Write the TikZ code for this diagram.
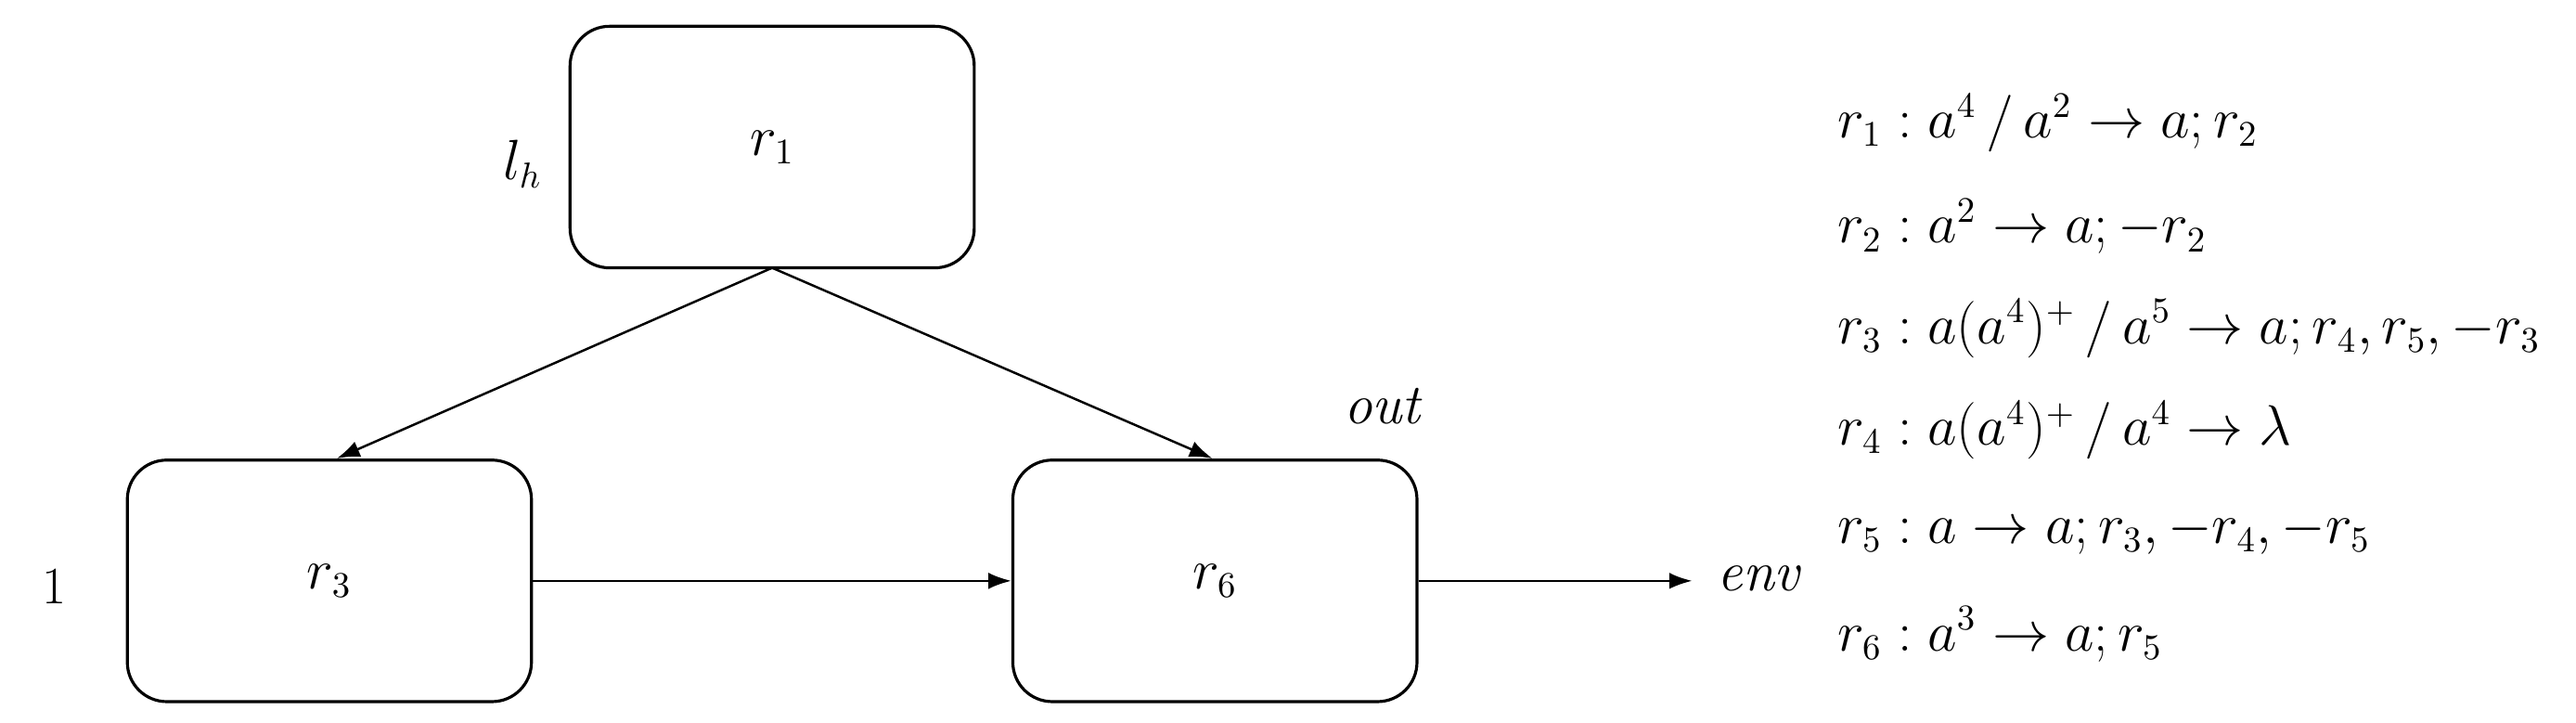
\documentclass[tikz,border=0pt]{standalone}
\usepackage{amsmath}
\usetikzlibrary{arrows.meta}
\begin{document}
\begin{tikzpicture}[x=0.5pt,y=-0.5pt,font=\fontsize{16}{19}\selectfont,
  box/.style={draw,line width=0.9pt,rounded corners=12pt,minimum width=123pt,minimum height=73.5pt,inner sep=0pt},
  arr/.style={-{Latex[length=7pt,width=5pt]},line width=0.7pt},
  lab/.style={inner sep=0pt}]
\useasboundingbox (0,0) rectangle (1568,440);
\node[box] (r1) at (470,89.5) {$r_1$};
\node[box] (r3) at (200.5,353.5) {$r_3$};
\node[box] (r6) at (739.5,353.5) {$r_6$};
\coordinate (r1b) at (470,163);
\draw[arr] (r1b) -- (205,279);
\draw[arr] (r1b) -- (738,279);
\draw[arr] (r3.east) -- (r6.west);
\node[lab,anchor=west] (env) at (1045,352) {$\mathit{env}$};
\coordinate (envin) at (1030,353.5);
\draw[arr] (r6.east) -- (envin);
\node[lab] (one) at (33,357) {1};
\node[lab] (lh) at (318,100) {$l_h$};
\node[lab] (out) at (843,247) {$\mathit{out}$};
\begin{scope}[every node/.style={anchor=west,inner sep=0pt}]
\node (t1) at (1118,75) {$r_1 : a^4 \,/\, a^2 \rightarrow a; r_2$};
\node (t2) at (1118,138) {$r_2 : a^2 \rightarrow a; {-r_2}$};
\node (t3) at (1118,200) {$r_3 : a(a^4)^+ \,/\, a^5 \rightarrow a; r_4, r_5, -r_3$};
\node (t4) at (1118,262) {$r_4 : a(a^4)^+ \,/\, a^4 \rightarrow \lambda$};
\node (t5) at (1118,324) {$r_5 : a \rightarrow a; r_3, -r_4, -r_5$};
\node (t6) at (1118,386) {$r_6 : a^3 \rightarrow a; r_5$};
\end{scope}
\end{tikzpicture}
\end{document}
